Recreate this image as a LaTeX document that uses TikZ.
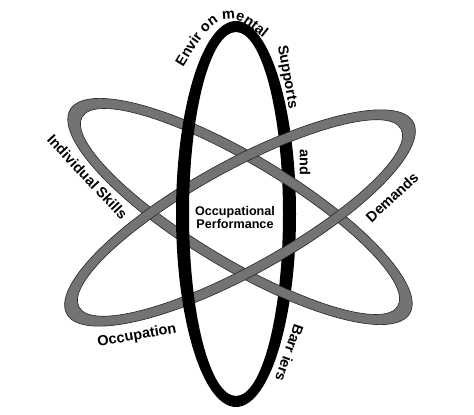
\documentclass[tikz,border=0pt]{standalone}
\usepackage{fontspec}
\setmainfont{Liberation Sans}
\usetikzlibrary{decorations.text}
\begin{document}
\begin{tikzpicture}[x=1pt,y=1pt,
  ring/.style={fill=black,even odd rule},
  band/.style={fill=black!55,draw=black!85,line width=0.6pt,even odd rule},
  lbl/.style={font=\bfseries\fontsize{14.5}{14.5}\selectfont,inner sep=0pt}]
  \useasboundingbox (0,0) rectangle (474,415);
  \coordinate (env) at (236,201);
  \coordinate (skl) at (240,203.5);
  \coordinate (occ) at (240,197);
  % black ring, back half
  \begin{scope}
    \clip (236,0) rectangle (474,415);
    \path[ring] (env) ellipse (60 and 193) (env) ellipse (47 and 182);
  \end{scope}
  \path[band,rotate around={-31:(skl)}] (skl) ellipse (198 and 57) (skl) ellipse (184 and 47);
  \path[band,rotate around={29:(occ)}] (occ) ellipse (198 and 57) (occ) ellipse (184 and 47);
  % black ring, front half
  \begin{scope}
    \clip (0,0) rectangle (236,415);
    \path[ring] (env) ellipse (60 and 193) (env) ellipse (47 and 182);
  \end{scope}
  \node[font=\bfseries\fontsize{12.6}{13}\selectfont,align=center,inner sep=0pt] (perf) at (235,198) {Occupational\\Performance};
  \path[decorate,decoration={text along path,text align=left,
    text={|\bfseries\fontsize{14.5}{14.5}\selectfont|Envir on mental}}]
    (183,348) .. controls (196,369) and (208,391) .. (224,395) .. controls (233,397) and (240,395) .. (247,390) -- (276,367);
  \node[lbl,rotate=-80] (supports) at (287,338) {Supports};
  \node[lbl,rotate=-90] (and) at (305,253) {and};
  \node[lbl,rotate=-109] (barriers) at (289.5,62) {Barr iers};
  \node[lbl,rotate=-47] (skills) at (87.5,238) {Individual Skills};
  \node[lbl,rotate=43] (demands) at (392,218) {Demands};
  \node[lbl,rotate=10] (occupation) at (137,79) {Occupation};
\end{tikzpicture}
\end{document}
